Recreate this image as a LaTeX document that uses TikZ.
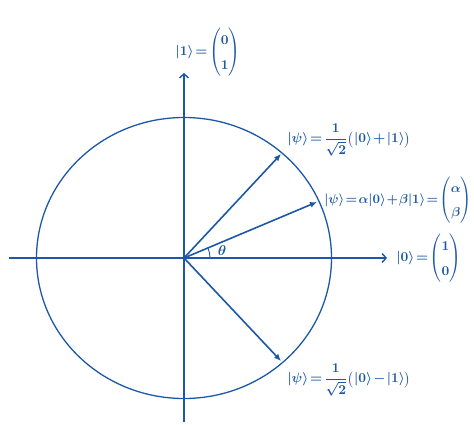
\documentclass[tikz,border=0pt]{standalone}
\usepackage{amsmath}
\usetikzlibrary{arrows.meta}
\definecolor{qblue}{RGB}{28,88,165}
\newcommand{\qfont}{\normalsize\boldmath\thickmuskip=2mu\medmuskip=1.5mu\renewcommand{\arraystretch}{1.55}}
\newcommand{\qfontsm}{\normalsize\boldmath\thickmuskip=1.5mu\medmuskip=1mu\renewcommand{\arraystretch}{1.55}}
\begin{document}
\begin{tikzpicture}[x=1pt,y=-1pt,
  lbl/.style={text=qblue, inner sep=0pt, font=\qfont, scale=1.35},
  axis/.style={draw=qblue, line width=1.7pt, -{Straight Barb[length=4pt,width=9pt,line width=1.4pt]}},
  vec/.style={draw=qblue, line width=1.6pt, -{Latex[length=7pt,width=6pt]}},
  circ/.style={draw=qblue, line width=1.3pt}]
\useasboundingbox (0,0) rectangle (474,425);
\coordinate (O) at (184,258);
\coordinate (ytop) at (184,73);
\coordinate (ybot) at (184,422);
\coordinate (xleft) at (9,258);
\coordinate (xright) at (387,258);
\coordinate (vp) at (281,154);
\coordinate (va) at (317,202);
\coordinate (vm) at (281,361);
% circle
\draw[circ] (O) ellipse [x radius=147.5pt, y radius=140.5pt];
% axes
\draw[axis] (ybot) -- (ytop);
\draw[axis] (xleft) -- (xright);
% vectors
\draw[vec] (O) -- (vp);
\draw[vec] (O) -- (va);
\draw[vec] (O) -- (vm);
% angle
\draw[qblue, line width=0.9pt] (O) ++(26pt,0pt) arc[start angle=0, end angle=23, radius=26pt];
\node[lbl, scale=1.05] (th) at (222,251) {$\theta$};
% labels
\node[lbl] (k1) at (208,52) {$|1\rangle=\begin{pmatrix}0\\1\end{pmatrix}$};
\node[lbl, anchor=west] (kp) at (287,140) {$|\psi\rangle=\dfrac{1}{\sqrt{2}}\bigl(|0\rangle+|1\rangle\bigr)$};
\node[lbl, anchor=west, font=\qfontsm, scale=0.96] (ka) at (324,200) {$|\psi\rangle=\alpha|0\rangle+\beta|1\rangle=\begin{pmatrix}\alpha\\\beta\end{pmatrix}$};
\node[lbl, anchor=west] (k0) at (396,258) {$|0\rangle=\begin{pmatrix}1\\0\end{pmatrix}$};
\node[lbl, anchor=west] (km) at (287,380) {$|\psi\rangle=\dfrac{1}{\sqrt{2}}\bigl(|0\rangle-|1\rangle\bigr)$};
\end{tikzpicture}
\end{document}
